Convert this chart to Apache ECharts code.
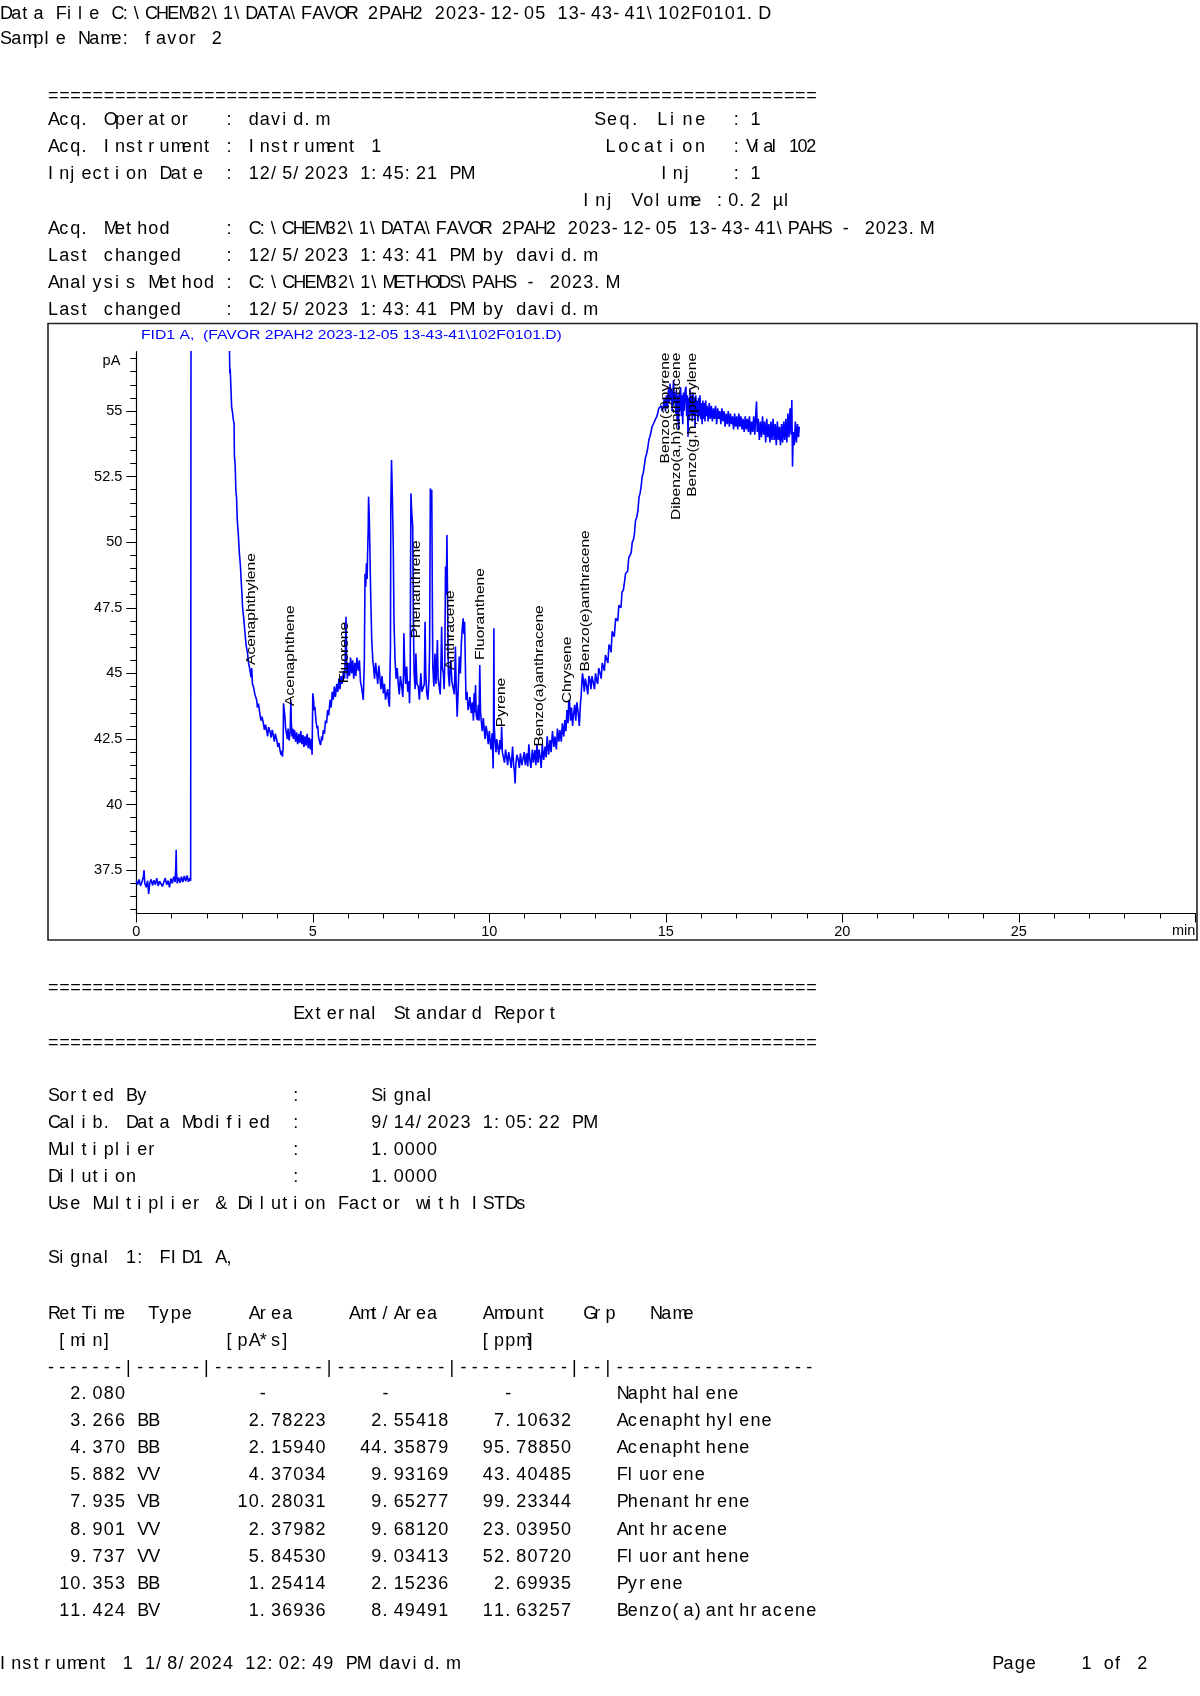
<!DOCTYPE html>
<html>
<head>
<meta charset="utf-8">
<script src="https://cdn.jsdelivr.net/npm/echarts@6/dist/echarts.min.js"></script>
<style>
  html, body { margin: 0; padding: 0; background: #fff; }
  #page { position: relative; width: 1200px; height: 1696px; overflow: hidden; }
  #main { position: absolute; left: 0; top: 0; width: 1200px; height: 1696px; }
  #report span {
    position: absolute; height: 20px; line-height: 20px; white-space: pre;
    font-family: "Liberation Sans", Arial, sans-serif; font-size: 18px; color: #000;
  }
</style>
</head>
<body>
<div id="page">
  <div id="main"></div>
  <div id="report"></div>
</div>
<script>
// ---- chromatogram trace (min, pA) ----
var sigBaseline = [[0.00,37.10],[0.04,36.95],[0.08,37.15],[0.12,36.90],[0.16,37.05],[0.20,37.25],[0.22,37.50],[0.24,37.00],[0.28,36.85],[0.32,37.10],[0.35,36.60],[0.38,37.00],[0.42,37.15],[0.46,36.92],[0.50,37.12],[0.54,36.95],[0.58,37.20],[0.62,36.90],[0.66,37.08],[0.70,37.15],[0.74,36.88],[0.78,37.05],[0.82,37.20],[0.86,36.95],[0.90,37.10],[0.94,36.85],[0.98,37.18],[1.02,37.00],[1.06,37.25],[1.10,37.05],[1.12,37.70],[1.13,38.28],[1.14,37.40],[1.16,37.00],[1.20,37.22],[1.24,37.02],[1.28,37.25],[1.32,37.05],[1.36,37.28],[1.40,37.08],[1.44,37.30],[1.48,37.06],[1.52,37.20],[1.54,37.10]];
// solvent peak runs off scale
var sigSolvent = [[1.55,58.5],[2.63,58.5]];
var sigDecay = [[2.64,57.3],[2.65,56.44],[2.66,56.6],[2.68,55.9],[2.70,55.17],[2.72,55.0],[2.75,54.66],[2.77,54.5],[2.78,53.26],[2.80,53.0],[2.82,51.99],[2.84,51.7],[2.86,50.85],[2.89,50.3],[2.92,49.58],[2.95,49.1],[2.97,48.56],[2.99,48.1],[3.01,47.54],[3.05,47.0],[3.08,46.53],[3.11,46.1],[3.15,45.77],[3.18,45.4],[3.22,45.13],[3.25,44.85],[3.27,45.2],[3.29,44.6],[3.32,44.49],[3.36,44.2],[3.41,43.99],[3.43,43.7],[3.46,43.85],[3.50,43.48],[3.53,43.2],[3.56,43.35],[3.60,43.10],[3.63,42.85],[3.66,43.05],[3.69,42.84],[3.72,42.6],[3.75,42.95],[3.79,42.78],[3.82,42.55],[3.85,42.85],[3.88,42.65],[3.91,42.4],[3.94,42.7],[3.98,42.46],[4.01,42.2],[4.04,42.35],[4.07,42.08],[4.10,41.9],[4.12,42.05],[4.14,41.83]];
var sigAcenaphthene = [[4.16,42.2],[4.17,43.86],[4.19,43.6],[4.21,43.35],[4.23,42.9],[4.26,42.84],[4.28,42.5],[4.30,42.9],[4.33,42.45],[4.36,42.8],[4.37,43.5],[4.38,44.0],[4.39,43.2],[4.41,42.6],[4.43,42.9],[4.45,42.5],[4.48,42.85],[4.51,42.4],[4.54,42.75],[4.57,42.3],[4.60,42.7],[4.63,42.35],[4.66,42.8],[4.69,42.3],[4.72,42.65],[4.75,42.2],[4.78,42.6],[4.81,42.25],[4.84,42.7],[4.87,42.15],[4.90,42.55],[4.93,42.1],[4.96,42.5],[4.98,41.9]];
var sigFluorene = [[5.00,44.24],[5.02,44.0],[5.04,43.6],[5.06,43.73],[5.09,43.2],[5.12,42.9],[5.14,43.0],[5.16,42.6],[5.19,42.4],[5.22,42.27],[5.25,42.6],[5.27,42.45],[5.30,42.85],[5.33,42.7],[5.36,43.2],[5.39,43.1],[5.42,43.6],[5.45,43.4],[5.49,43.99],[5.52,43.7],[5.55,44.3],[5.58,44.0],[5.61,44.5],[5.64,44.1],[5.68,44.6],[5.71,44.3],[5.74,44.8],[5.77,44.4],[5.80,44.9],[5.83,44.6],[5.87,45.1],[5.90,44.8],[5.92,45.6],[5.94,47.16],[5.96,45.2],[5.98,44.8],[6.01,45.4],[6.04,44.9],[6.07,45.6],[6.10,45.0],[6.13,45.5],[6.16,44.8],[6.19,45.4],[6.22,44.9],[6.25,45.6],[6.29,45.1],[6.32,45.5],[6.35,44.7],[6.38,44.49],[6.41,44.2],[6.43,43.99]];
var sigMainPeaks = [[6.46,45.5],[6.48,48.8],[6.50,48.3],[6.52,49.2],[6.54,48.6],[6.55,49.45],[6.57,50.5],[6.58,51.73],[6.60,51.0],[6.62,50.97],[6.64,48.0],[6.67,46.27],[6.70,45.5],[6.72,45.26],[6.75,44.8],[6.78,45.4],[6.81,45.0],[6.84,44.6],[6.87,45.3],[6.90,44.88],[6.93,44.4],[6.96,44.9],[7.00,44.24],[7.03,44.6],[7.06,44.0],[7.09,43.99],[7.12,44.4],[7.15,43.9],[7.17,43.73],[7.20,46.0],[7.21,51.35],[7.23,53.13],[7.25,52.0],[7.28,49.83],[7.30,47.0],[7.33,45.51],[7.36,44.8],[7.39,45.2],[7.42,44.62],[7.45,44.2],[7.48,44.9],[7.52,44.49],[7.55,44.1],[7.57,45.0],[7.58,46.53],[7.60,45.4],[7.63,44.6],[7.66,45.26],[7.69,44.3],[7.72,44.7],[7.74,43.86],[7.76,45.0],[7.77,49.0],[7.78,51.86],[7.80,51.2],[7.83,50.6],[7.85,47.0],[7.87,45.0],[7.90,44.4],[7.92,45.76],[7.95,44.6],[7.99,44.5],[8.02,44.0],[8.06,45.0],[8.09,44.3],[8.13,44.24],[8.16,44.6],[8.18,46.97],[8.20,45.0],[8.23,44.24],[8.26,44.0],[8.29,44.75],[8.31,46.0],[8.33,52.05],[8.35,51.9],[8.37,51.99],[8.39,47.0],[8.40,45.26],[8.43,44.5],[8.46,45.76],[8.49,44.6],[8.53,46.27],[8.55,44.8],[8.58,44.75],[8.61,44.2],[8.63,45.3],[8.65,46.78],[8.67,45.2],[8.70,45.0],[8.72,44.4],[8.74,45.5],[8.76,49.07],[8.78,48.0],[8.80,50.27],[8.82,47.5],[8.84,45.0],[8.87,44.5],[8.89,45.2],[8.91,45.51],[8.94,44.7],[8.98,44.75],[9.01,44.2],[9.04,46.02],[9.06,44.6],[9.09,43.35],[9.12,44.4],[9.15,45.64],[9.18,45.0],[9.21,46.2],[9.23,46.65],[9.26,47.1],[9.28,46.5],[9.30,46.97],[9.32,45.5],[9.34,43.99],[9.37,44.3],[9.40,43.6],[9.42,43.73],[9.45,44.1],[9.49,43.48],[9.52,43.9],[9.55,43.2],[9.57,44.24],[9.59,43.5],[9.61,44.56],[9.63,43.4],[9.66,43.22],[9.69,43.8],[9.71,43.2],[9.73,45.32],[9.75,43.6],[9.77,43.22],[9.80,42.8],[9.83,43.3],[9.85,42.97],[9.88,42.5],[9.91,43.0],[9.94,42.72],[9.97,42.3],[10.00,42.8],[10.02,42.46],[10.05,42.1],[10.08,42.72],[10.11,41.38],[10.12,43.0],[10.13,46.72],[10.14,43.0],[10.16,42.46]];
var sigValley = [[10.19,42.0],[10.21,42.5],[10.24,42.21],[10.27,41.9],[10.30,42.46],[10.33,42.1],[10.35,42.97],[10.37,42.0],[10.40,41.95],[10.43,41.6],[10.46,42.1],[10.49,41.83],[10.52,41.5],[10.55,42.0],[10.59,41.7],[10.62,41.4],[10.66,42.21],[10.69,41.5],[10.71,41.3],[10.73,40.81],[10.75,41.5],[10.78,41.9],[10.82,41.7],[10.85,41.4],[10.88,41.95],[10.92,41.5],[10.96,41.57],[10.99,42.0],[11.02,41.5],[11.06,41.95],[11.09,41.45],[11.12,42.3],[11.15,41.7],[11.18,41.4],[11.22,42.1],[11.25,41.6],[11.29,42.08],[11.32,41.5],[11.35,42.3],[11.38,41.6],[11.41,42.1],[11.44,41.83],[11.47,41.4],[11.50,42.3],[11.54,41.7],[11.58,42.21],[11.61,41.8],[11.64,42.6],[11.68,41.9],[11.72,42.46],[11.75,42.0],[11.79,42.8],[11.83,42.2],[11.86,42.59],[11.90,42.1],[11.93,42.9],[11.97,42.4],[12.00,42.84],[12.04,42.4],[12.07,43.1],[12.11,42.6],[12.14,43.22],[12.17,42.8],[12.20,43.6],[12.23,43.1],[12.25,43.9],[12.27,43.99],[12.30,43.2],[12.33,43.7],[12.36,43.0],[12.38,43.35],[12.42,43.8],[12.45,43.2],[12.48,43.9],[12.52,43.48],[12.55,43.0],[12.58,43.8],[12.60,44.11]];
var sigRise = [[12.62,44.6],[12.64,45.0],[12.66,44.8],[12.69,44.3],[12.72,44.8],[12.76,44.49],[12.79,44.2],[12.82,44.9],[12.85,44.75],[12.88,44.4],[12.91,44.9],[12.95,44.62],[12.98,44.4],[13.01,45.0],[13.04,44.75],[13.07,44.6],[13.10,45.2],[13.14,45.0],[13.17,44.8],[13.20,45.4],[13.23,45.26],[13.26,45.1],[13.29,45.7],[13.33,45.64],[13.36,45.4],[13.39,46.1],[13.42,46.02],[13.45,45.8],[13.48,46.6],[13.51,46.53],[13.54,46.4],[13.58,47.1],[13.61,47.04],[13.64,47.0],[13.67,47.6],[13.70,47.54],[13.73,47.5],[13.76,48.1],[13.80,48.18],[13.83,48.2],[13.86,48.8],[13.89,48.81],[13.92,48.9],[13.95,49.4],[13.99,49.45],[14.02,49.6],[14.05,50.0],[14.08,50.08],[14.11,50.3],[14.14,50.8],[14.18,50.97],[14.21,51.2],[14.24,51.7],[14.27,51.86],[14.30,52.1],[14.33,52.5],[14.36,52.63],[14.39,52.9],[14.42,53.2],[14.46,53.39],[14.49,53.6],[14.52,53.9],[14.55,54.02],[14.58,54.2],[14.61,54.4],[14.65,54.47],[14.68,54.6],[14.71,54.7],[14.74,54.78],[14.77,54.9],[14.80,55.1],[14.84,55.04],[14.87,55.2],[14.90,55.0],[14.93,55.17]];
var sigPlateau = [[14.96,55.5],[14.99,55.0],[15.02,55.6],[15.05,55.1],[15.08,55.9],[15.10,55.3],[15.12,56.05],[15.14,55.4],[15.16,55.8],[15.18,55.0],[15.20,55.7],[15.22,56.18],[15.24,55.3],[15.26,55.7],[15.28,54.9],[15.30,55.8],[15.32,54.6],[15.34,55.6],[15.36,54.3],[15.38,55.7],[15.40,55.0],[15.42,55.9],[15.44,54.8],[15.46,55.6],[15.48,54.5],[15.50,55.7],[15.52,55.0],[15.55,55.8],[15.57,55.93],[15.59,54.8],[15.61,55.6],[15.63,54.02],[15.65,55.5],[15.67,54.7],[15.69,55.8],[15.71,54.9],[15.73,55.6],[15.75,54.6],[15.77,55.7],[15.79,54.8],[15.81,55.5],[15.83,54.4],[15.85,55.6],[15.87,54.9],[15.89,55.4],[15.91,54.6],[15.93,55.5],[15.95,54.8],[15.97,55.6],[15.99,54.7],[16.01,55.3],[16.03,54.5],[16.05,55.4],[16.07,54.7],[16.09,55.3],[16.11,54.6],[16.13,55.4],[16.15,54.8],[16.17,55.2],[16.20,54.6],[16.23,55.3],[16.26,54.7],[16.29,55.2],[16.32,54.6],[16.35,55.1],[16.38,54.7],[16.41,55.2],[16.44,54.5],[16.47,55.1],[16.50,54.7],[16.53,55.0],[16.56,54.5],[16.59,55.1],[16.62,54.6],[16.65,55.0],[16.68,54.4],[16.71,54.9],[16.74,54.5],[16.77,55.0],[16.80,54.4],[16.83,54.9],[16.86,54.5],[16.89,54.8],[16.92,54.3],[16.95,54.9],[16.98,54.4],[17.01,54.8],[17.04,54.3],[17.07,54.9],[17.10,54.4],[17.13,54.8],[17.16,54.3],[17.19,54.7],[17.22,54.2],[17.25,54.8],[17.28,54.3],[17.31,54.7],[17.34,54.2],[17.37,54.8],[17.40,54.1],[17.43,54.6],[17.46,54.2],[17.49,54.8],[17.52,54.1],[17.55,54.9],[17.57,55.36],[17.59,54.2],[17.62,54.7],[17.65,53.9],[17.68,54.6],[17.71,54.0],[17.74,54.8],[17.77,54.1],[17.80,54.6],[17.83,53.8],[17.86,54.7],[17.89,54.0],[17.92,54.5],[17.95,53.8],[17.98,54.6],[18.01,53.9],[18.04,54.7],[18.07,53.9],[18.10,54.5],[18.13,53.7],[18.16,54.6],[18.19,53.9],[18.22,54.4],[18.25,53.7],[18.28,54.5],[18.31,53.8],[18.34,54.6],[18.37,53.9],[18.40,54.7],[18.43,53.8],[18.46,54.9],[18.49,54.0],[18.52,55.1],[18.55,54.1],[18.57,55.42],[18.59,52.88],[18.61,54.2],[18.64,53.7],[18.67,54.6],[18.70,53.8],[18.73,54.5],[18.76,54.0],[18.78,54.4]];

// ---- peak annotations ----
var peakNames = ["Acenaphthylene", "Acenaphthene", "Fluorene", "Phenanthrene", "Anthracene", "Fluoranthene", "Pyrene",
  "Benzo(a)anthracene", "Chrysene", "Benzo(e)anthracene", "Benzo(a)pyrene", "Dibenzo(a,h)anthracene", "Benzo(g,h,i)perylene"];
var peakTimes = [3.266, 4.370, 5.882, 7.935, 8.901, 9.737, 10.353, 11.424, 12.22, 12.71, 14.98, 15.31, 15.76];
var peakLabelBase = [45.32, 43.76, 44.62, 46.34, 45.13, 45.51, 42.95, 42.21, 43.86, 45.07, 53.0, 50.85, 51.73];

// ---- axes ----
var xTickLabels = [0, 5, 10, 15, 20, 25];
var xMajorTicks = [0, 5, 10, 15, 20, 25, 30];
var xMinorTicks = [0, 1, 2, 3, 4, 5, 6, 7, 8, 9, 10, 11, 12, 13, 14, 15, 16, 17, 18, 19, 20, 21, 22, 23, 24, 25, 26, 27, 28, 29, 30];
var yTickLabels = [37.5, 40, 42.5, 45, 47.5, 50, 52.5, 55];
var yMinorTicks = [36, 36.5, 37, 37.5, 38, 38.5, 39, 39.5, 40, 40.5, 41, 41.5, 42, 42.5, 43, 43.5, 44, 44.5, 45, 45.5, 46, 46.5,
  47, 47.5, 48, 48.5, 49, 49.5, 50, 50.5, 51, 51.5, 52, 52.5, 53, 53.5, 54, 54.5, 55, 55.5, 56, 56.5, 57];

// ---- report table ----
var retTimes = [2.080, 3.266, 4.370, 5.882, 7.935, 8.901, 9.737, 10.353, 11.424];
var peakTypes = ["", "BB", "BB", "VV", "VB", "VV", "VV", "BB", "BV"];
var areas = [null, 2.78223, 2.15940, 4.37034, 10.28031, 2.37982, 5.84530, 1.25414, 1.36936];
var amtPerArea = [null, 2.55418, 44.35879, 9.93169, 9.65277, 9.68120, 9.03413, 2.15236, 8.49491];
var amounts = [null, 7.10632, 95.78850, 43.40485, 99.23344, 23.03950, 52.80720, 2.69935, 11.63257];
var compoundNames = ["Naphthalene", "Acenaphthylene", "Acenaphthene", "Fluorene", "Phenanthrene", "Anthracene",
  "Fluoranthene", "Pyrene", "Benzo(a)anthracene"];


var FONT = '"Liberation Sans", Arial, sans-serif';
var PITCH = 11.15;

function initializeChart() {
    var chart = echarts.init(document.getElementById("main"));
    var trace = [].concat(sigBaseline, sigSolvent, sigDecay, sigAcenaphthene, sigFluorene,
        sigMainPeaks, sigValley, sigRise, sigPlateau);

    var axisText = { color: "#000", fontSize: 14.5, fontFamily: FONT };

    var options = {
        animation: false,
        backgroundColor: "#fff",
        grid: { left: 136.3, right: 4.7, top: 351.7, bottom: 782.5 },
        xAxis: [{
            type: "value", min: 0, max: 30, position: "bottom",
            axisLine: { lineStyle: { color: "#000", width: 1.2 } },
            axisTick: { customValues: xMinorTicks, length: 5, lineStyle: { color: "#000" } },
            axisLabel: Object.assign({ customValues: xTickLabels, margin: 11 }, axisText),
            splitLine: { show: false },
            name: "min", nameLocation: "end", nameGap: 0,
            nameTextStyle: Object.assign({ align: "right", verticalAlign: "top", padding: [10, 0, 0, 0] }, axisText),
        }, {
            type: "value", min: 0, max: 30, position: "bottom",
            axisLine: { show: false },
            axisTick: { customValues: xMajorTicks, length: 9, lineStyle: { color: "#000" } },
            axisLabel: { show: false },
            splitLine: { show: false },
        }],
        yAxis: [{
            type: "value", min: 35.85, max: 57.26, position: "left",
            axisLine: { show: true, lineStyle: { color: "#000", width: 1.2 } },
            axisTick: { show: true, customValues: yMinorTicks, length: 6, lineStyle: { color: "#000" } },
            axisLabel: Object.assign({ customValues: yTickLabels, margin: 14 }, axisText),
            splitLine: { show: false },
            name: "pA", nameLocation: "end", nameGap: -9.5,
            nameTextStyle: Object.assign({ align: "right", verticalAlign: "middle", padding: [0, 16, 0, 0] }, axisText),
        }, {
            type: "value", min: 35.85, max: 57.26, position: "left",
            axisLine: { show: false },
            axisTick: { show: true, customValues: yTickLabels, length: 10, lineStyle: { color: "#000" } },
            axisLabel: { show: false },
            splitLine: { show: false },
        }],
        graphic: [{
            type: "rect", silent: true,
            shape: { x: 48, y: 323.5, width: 1149, height: 616.5 },
            style: { fill: "none", stroke: "#222", lineWidth: 1.6 },
        }, {
            type: "text", x: 141, y: 335, scaleX: 1.21,
            style: {
                text: "FID1 A,  (FAVOR 2PAH2 2023-12-05 13-43-41\\102F0101.D)",
                fill: "#0000ff", fontSize: 13, fontFamily: FONT, verticalAlign: "middle",
            },
        }],
        series: [{
            type: "line",
            data: trace,
            showSymbol: false,
            symbol: "none",
            clip: true,
            lineStyle: { color: "#0000ff", width: 1.6 },
            z: 2,
        }, {
            type: "custom",
            clip: false,
            data: peakTimes.map(function (t, i) { return [t, peakLabelBase[i]]; }),
            renderItem: function (params, api) {
                var p = api.coord([api.value(0), api.value(1)]);
                return {
                    type: "text",
                    x: p[0], y: p[1],
                    rotation: Math.PI / 2,
                    scaleX: 1.2,
                    style: {
                        text: peakNames[params.dataIndex],
                        fill: "#000", fontSize: 13, fontFamily: FONT,
                        align: "left", verticalAlign: "middle",
                    },
                };
            },
            z: 3,
        }],
    };

    chart.setOption(options);
}


// text report: each character sits in a fixed-pitch cell
// parts are [column, text] or [column, text, own pitch]
function putLine(x0, yc, parts) {
    var report = document.getElementById("report");
    parts.forEach(function (part) {
        var pitch = part[2] || PITCH;
        var start = x0 + part[0] * PITCH;
        for (var i = 0; i < part[1].length; i++) {
            var ch = part[1][i];
            if (ch === " ") continue;
            var s = document.createElement("span");
            s.textContent = ch;
            s.style.left = (start + i * pitch) + "px";
            s.style.top = (yc - 10) + "px";
            report.appendChild(s);
        }
    });
}

function padLeft(str, width) {
    while (str.length < width) str = " " + str;
    return str;
}

function buildReport() {
    var eq = "=".repeat(69);
    putLine(0, 13, [[0, "Data File C:\\CHEM32\\1\\DATA\\FAVOR 2PAH2 2023-12-05 13-43-41\\102F0101.D"]]);
    putLine(0, 38, [[0, "Sample Name: favor 2"]]);
    putLine(48, 95, [[0, eq]]);
    putLine(48, 119, [[0, "Acq. Operator"], [16, ": david.m"], [49, "Seq. Line", 12.6], [61.5, ":"], [63, "1"]]);
    putLine(48, 146, [[0, "Acq. Instrument"], [16, ": Instrument 1"], [50, "Location", 12.8], [61.5, ":"], [62.6, "Vial 102", 8.6]]);
    putLine(48, 173, [[0, "Injection Date"], [16, ": 12/5/2023 1:45:21 PM"], [55, "Inj", 11.6], [61.5, ":"], [63, "1"]]);
    putLine(48, 200, [[48, "Inj Volume", 12.0], [60, ":"], [61, "0.2 µl"]]);
    putLine(48, 228, [[0, "Acq. Method"], [16, ": "], [18, "C:\\CHEM32\\1\\DATA\\FAVOR 2PAH2 2023-12-05 13-43-41\\PAHS - 2023.M", 11.0]]);
    putLine(48, 255, [[0, "Last changed"], [16, ": 12/5/2023 1:43:41 PM by david.m"]]);
    putLine(48, 282, [[0, "Analysis Method"], [16, ": C:\\CHEM32\\1\\METHODS\\PAHS - 2023.M"]]);
    putLine(48, 309, [[0, "Last changed"], [16, ": 12/5/2023 1:43:41 PM by david.m"]]);

    putLine(48, 987, [[0, eq]]);
    putLine(48, 1013, [[22, "External Standard Report"]]);
    putLine(48, 1042, [[0, eq]]);
    putLine(48, 1095, [[0, "Sorted By"], [22, ":"], [29, "Signal"]]);
    putLine(48, 1122, [[0, "Calib. Data Modified"], [22, ":"], [29, "9/14/2023 1:05:22 PM"]]);
    putLine(48, 1149, [[0, "Multiplier"], [22, ":"], [29, "1.0000"]]);
    putLine(48, 1176, [[0, "Dilution"], [22, ":"], [29, "1.0000"]]);
    putLine(48, 1203, [[0, "Use Multiplier & Dilution Factor with ISTDs"]]);
    putLine(48, 1257, [[0, "Signal 1: FID1 A,"]]);

    putLine(48, 1313, [[0, "RetTime"], [9, "Type"], [18, "Area"], [27, "Amt/Area"], [39, "Amount"], [48, "Grp"], [54, "Name"]]);
    putLine(48, 1340, [[1, "[min]"], [16, "[pA*s]"], [39, "[ppm]"]]);
    putLine(48, 1367, [[0, "-------|------|----------|----------|----------|--|------------------"]]);

    retTimes.forEach(function (rt, i) {
        var y = 1393 + i * 27.1;
        var parts = [[0, padLeft(rt.toFixed(3), 7)], [8, peakTypes[i]]];
        if (areas[i] === null) {
            parts.push([19, "-"], [30, "-"], [41, "-"]);
        } else {
            parts.push([10, padLeft(areas[i].toFixed(5), 15)]);
            parts.push([25, padLeft(amtPerArea[i].toFixed(5), 11)]);
            parts.push([36, padLeft(amounts[i].toFixed(5), 11)]);
        }
        parts.push([51, compoundNames[i]]);
        putLine(48, y, parts);
    });

    putLine(0, 1663, [[0, "Instrument 1 1/8/2024 12:02:49 PM david.m"], [89, "Page"], [97, "1 of 2"]]);
}

initializeChart();
buildReport();
</script>
</body>
</html>
